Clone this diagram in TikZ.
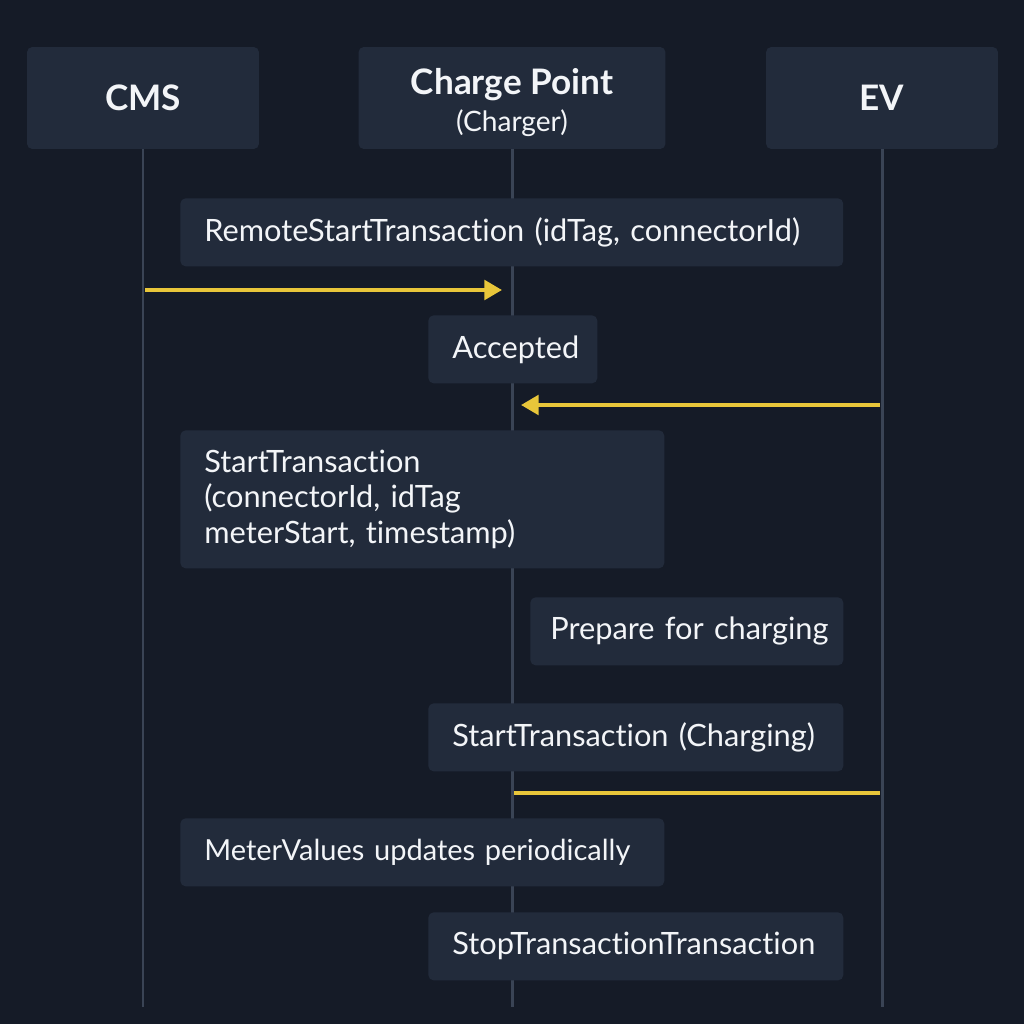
\documentclass[tikz,border=0pt]{standalone}
\usepackage{fontspec}
\setmainfont{Lato}[Ligatures=CommonOff]
\usetikzlibrary{arrows.meta,positioning}
\definecolor{bgnavy}{HTML}{151B27}
\definecolor{boxfill}{HTML}{222B3B}
\definecolor{lifegray}{HTML}{3A4455}
\definecolor{msgyellow}{HTML}{E8C63A}
\definecolor{txtwhite}{HTML}{F3F5F8}

\begin{document}
\begin{tikzpicture}[x=0.02cm,y=-0.02cm,
    actor/.style={fill=boxfill,rounded corners=3pt,text=txtwhite,align=center,
        minimum height=2.04cm,font=\fontsize{20}{24}\selectfont\bfseries},
    msgbox/.style={fill=boxfill,rounded corners=3pt,text=txtwhite,align=left,
        anchor=north west,inner xsep=0.48cm,inner ysep=0pt,minimum height=1.36cm,
        font=\fontsize{17.5}{20.4}\selectfont},
    lifeline/.style={lifegray,line width=1.7pt},
    msgline/.style={msgyellow,line width=2.3pt},
    msgarrow/.style={msgline,-{Triangle[length=10pt,width=11pt]}}]
    \fill[bgnavy] (0,0) rectangle (1024,1024);
    \node[actor,minimum width=4.64cm] (cms) at (143,98) {CMS};
    \node[actor,minimum width=6.14cm] (cp) at (512,98)
	{\rule{0pt}{20pt}Charge Point\\[-3.5pt]{\fontsize{16}{19}\selectfont\mdseries (Charger)}};
    \node[actor,minimum width=4.64cm] (ev) at (882,98) {EV};
    \coordinate (bottom) at (0,1007);
    \foreach \a in {cms,cp,ev}
	\draw[lifeline] (\a.south) -- (\a.south |- bottom);
    \node[msgbox,text width=12.3cm] (remote) at (180,198)
	{RemoteStartTransaction (idTag, connectorId)};
    \node[msgbox,text width=2.42cm] (accepted) at (428,315) {Accepted};
    \node[msgbox,text width=8.72cm,minimum height=2.76cm] (start) at (180,430)
	{StartTransaction\\(connectorId, idTag\\meterStart, timestamp)};
    \node[msgbox,text width=5.46cm,inner xsep=0.4cm] (prepare) at (530,597)
	{\mbox{Prepare for charging}};
    \node[msgbox,text width=7.34cm] (charging) at (428,703) {StartTransaction (Charging)};
    \node[msgbox,text width=8.72cm,font=\fontsize{16.5}{20.4}\selectfont] (meter) at (180,818)
	{MeterValues updates periodically};
    \node[msgbox,text width=7.34cm] (stop) at (428,912) {StopTransactionTransaction};
    \coordinate (m1) at (0,290);
    \coordinate (m2) at (0,405);
    \coordinate (m3) at (0,793);
    \draw[msgarrow] ([xshift=0.04cm]cms.south |- m1) -- ([xshift=-0.2cm]cp.south |- m1);
    \draw[msgarrow] ([xshift=-0.04cm]ev.south |- m2) -- ([xshift=0.18cm]cp.south |- m2);
    \draw[msgline] ([xshift=0.04cm]cp.south |- m3) -- ([xshift=-0.04cm]ev.south |- m3);
\end{tikzpicture}
\end{document}
